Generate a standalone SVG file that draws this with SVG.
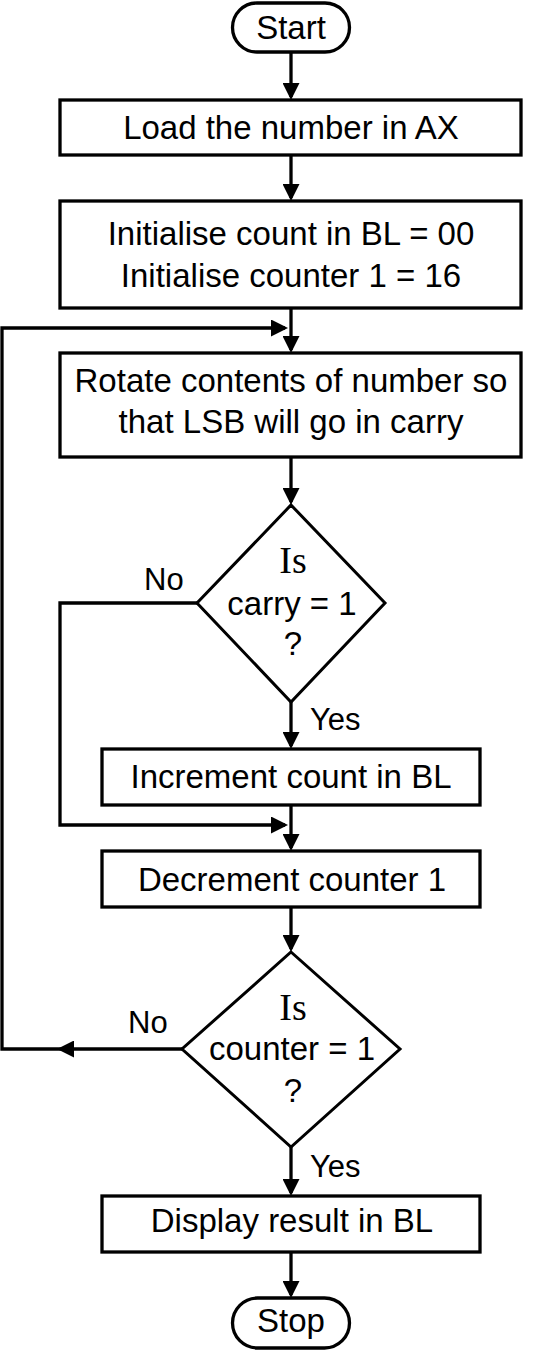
<svg xmlns="http://www.w3.org/2000/svg" width="555" height="1351" viewBox="0 0 555 1351">
<style>
.n{fill:#fff;stroke:#000;stroke-width:3.3}
.d{fill:#fff;stroke:#000;stroke-width:3}
.t{font-family:"Liberation Sans",Arial,sans-serif;font-size:33px;fill:#000;text-anchor:middle}
.s{font-family:"Liberation Serif","Times New Roman",serif;font-size:38px;fill:#000;text-anchor:middle}
.l{font-family:"Liberation Sans",Arial,sans-serif;font-size:31px;fill:#000}
.c{fill:none;stroke:#000;stroke-width:3.3}
</style>
<defs>
<marker id="a" viewBox="0 0 17 17" refX="14" refY="8.5" markerWidth="17" markerHeight="17" markerUnits="userSpaceOnUse" orient="auto">
<path d="M0,0 L17,8.5 L0,17 z" fill="#000"/>
</marker>
</defs>
<rect width="555" height="1351" fill="#fff"/>
<g id="connectors">
<path class="c" d="M291,52 V97" marker-end="url(#a)"/>
<path class="c" d="M291,155 V198" marker-end="url(#a)"/>
<path class="c" d="M291,308 V350" marker-end="url(#a)"/>
<path class="c" d="M291,457 V502" marker-end="url(#a)"/>
<path class="c" d="M291,702 V746" marker-end="url(#a)"/>
<path class="c" d="M197,603 H60 V825 H285" marker-end="url(#a)"/>
<path class="c" d="M291,805 V848" marker-end="url(#a)"/>
<path class="c" d="M291,907 V949" marker-end="url(#a)"/>
<path class="c" d="M182,1049 H60" marker-end="url(#a)"/>
<path class="c" d="M60,1049 H2 V328 H285" marker-end="url(#a)"/>
<path class="c" d="M291,1147 V1193" marker-end="url(#a)"/>
<path class="c" d="M291,1252 V1295" marker-end="url(#a)"/>
<text class="l" x="144" y="590">No</text>
<text class="l" x="310" y="730">Yes</text>
<text class="l" x="128" y="1033">No</text>
<text class="l" x="310" y="1177">Yes</text>
</g>
<g id="start">
<rect class="n" x="232.5" y="3" width="117" height="49" rx="24.5"/>
<text class="t" x="291" y="39">Start</text>
</g>
<g id="load">
<rect class="n" x="60" y="100" width="461" height="55"/>
<text class="t" x="291" y="139">Load the number in AX</text>
</g>
<g id="init">
<rect class="n" x="60" y="201" width="461" height="107"/>
<text class="t" x="291" y="245">Initialise count in BL = 00</text>
<text class="t" x="291" y="287">Initialise counter 1 = 16</text>
</g>
<g id="rotate">
<rect class="n" x="60" y="353" width="461" height="104"/>
<text class="t" x="291" y="392">Rotate contents of number so</text>
<text class="t" x="291" y="433">that LSB will go in carry</text>
</g>
<g id="carry">
<polygon class="d" points="291,505 385,603 291,702 197,603"/>
<text class="s" x="293" y="573">Is</text>
<text class="t" x="292" y="615">carry = 1</text>
<text class="t" x="293" y="655">?</text>
</g>
<g id="increment">
<rect class="n" x="102" y="749" width="378" height="56"/>
<text class="t" x="291" y="788">Increment count in BL</text>
</g>
<g id="decrement">
<rect class="n" x="102" y="851" width="378" height="56"/>
<text class="t" x="292" y="891">Decrement counter 1</text>
</g>
<g id="counter">
<polygon class="d" points="291,952 400,1049 291,1147 182,1049"/>
<text class="s" x="293" y="1020">Is</text>
<text class="t" x="292" y="1060">counter = 1</text>
<text class="t" x="293" y="1102">?</text>
</g>
<g id="display">
<rect class="n" x="102" y="1196" width="378" height="56"/>
<text class="t" x="292" y="1232">Display result in BL</text>
</g>
<g id="stop">
<rect class="n" x="232.5" y="1298" width="117" height="50" rx="25"/>
<text class="t" x="291" y="1332">Stop</text>
</g>
</svg>
